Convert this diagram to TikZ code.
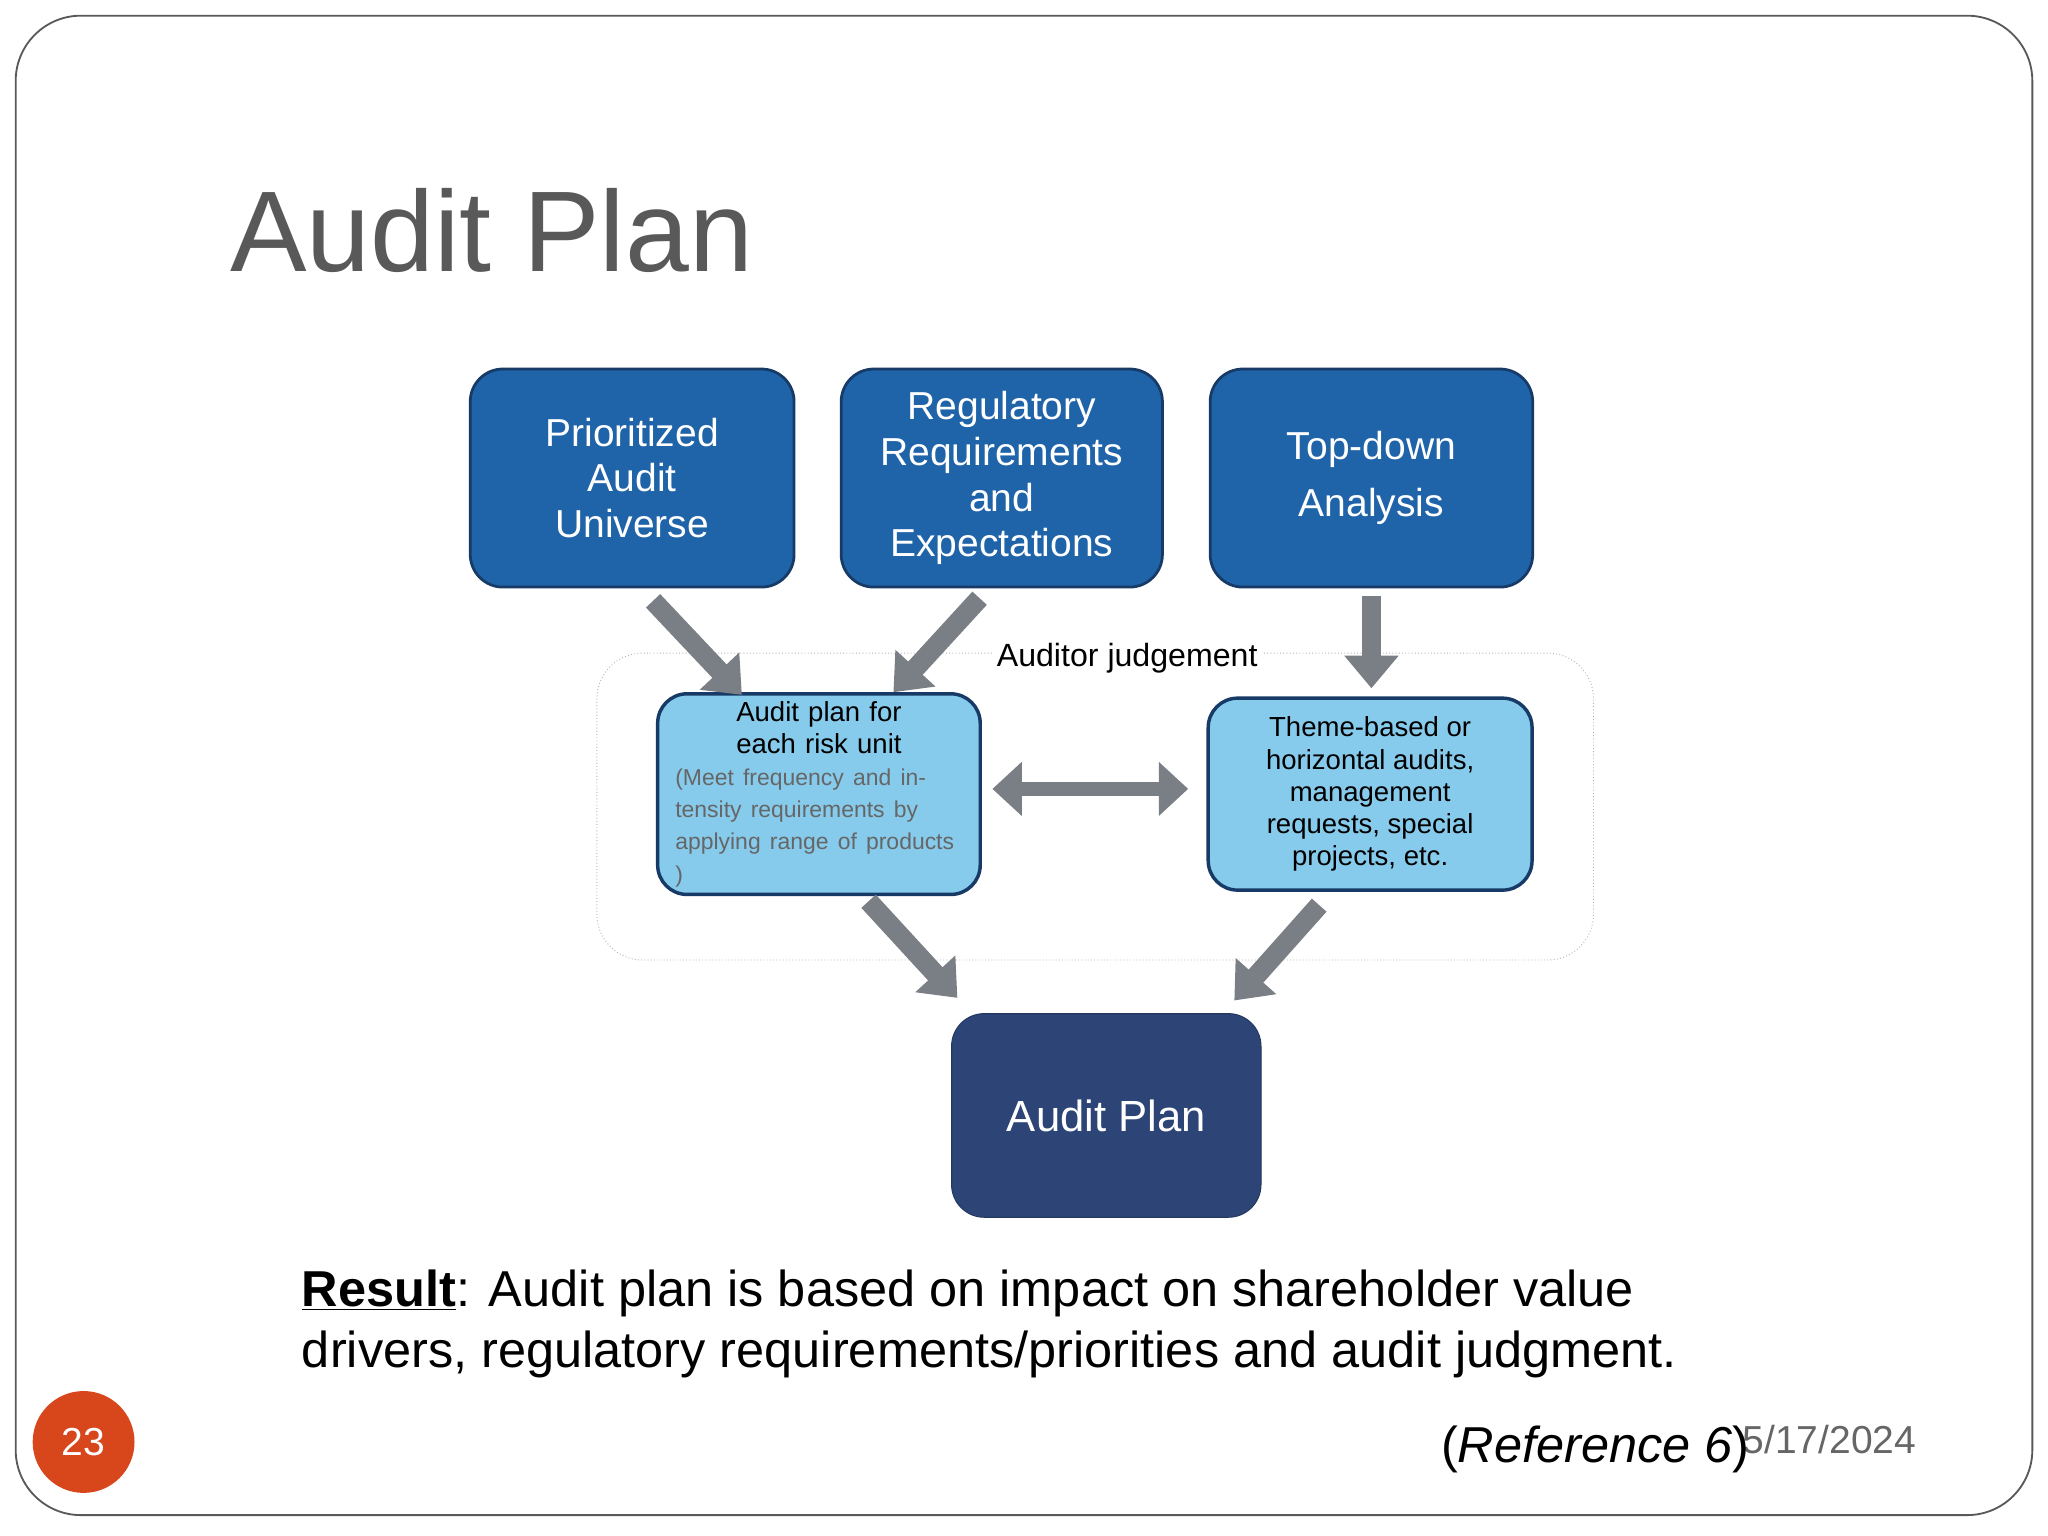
\documentclass[tikz,border=0pt]{standalone}
\usepackage{fontspec}
\setmainfont{Liberation Sans}
\usetikzlibrary{arrows.meta,calc}
\definecolor{topblue}{HTML}{1F63A8}
\definecolor{lightb}{HTML}{86CBEC}
\definecolor{navy}{HTML}{2C4476}
\definecolor{border}{HTML}{173A66}
\definecolor{arr}{HTML}{7A7F85}
\definecolor{badge}{HTML}{D8461C}
\tikzset{
 px/.style={x=0.02cm,y=-0.02cm},
 top/.style={draw=border,line width=1.2pt,fill=topblue,rounded corners=0.5cm,text=white,align=center,font=\fontsize{17}{20}\selectfont},
 mid/.style={draw=border,line width=1.5pt,fill=lightb,rounded corners=0.45cm,align=center,font=\fontsize{12}{14}\selectfont},
 blk/.style={line width=0.3cm,arr,-{Triangle[length=0.5cm,width=0.8cm]}},
}
\begin{document}
\begin{tikzpicture}[px]
\useasboundingbox (0,0) rectangle (1568,1176);
\draw[gray!70!black,line width=0.8pt,rounded corners=1cm] (12,12) rectangle (1556,1160);
\node[anchor=base west,text=gray!70!black,font=\fontsize{50}{60}\selectfont] (title) at (170,208) {Audit Plan};
\draw[gray!60,densely dotted,rounded corners=0.7cm] (457,500) rectangle (1220,735);
\node[top,minimum width=4.96cm,minimum height=3.34cm] (b1) at (484,366) {Prioritized\\Audit\\Universe};
\node[top,minimum width=4.92cm,minimum height=3.34cm] (b2) at (767,366) {Regulatory\\Requirements\\and\\Expectations};
\node[top,minimum width=4.94cm,minimum height=3.34cm,font=\fontsize{17}{25}\selectfont] (b3) at (1050,366) {Top-down\\Analysis};
\node[fill=white,font=\fontsize{14}{16}\selectfont,inner sep=2pt] (judg) at (863,504) {Auditor judgement};
\node[mid,minimum width=4.94cm,minimum height=2.94cm,align=left,text width=4.4cm] (L) at (627,608) {\centering Audit plan for\\ each risk unit\par\raggedright{\fontsize{10}{11}\selectfont\color{gray!80!black}(Meet frequency and intensity requirements by applying range of products )}};
\node[mid,minimum width=4.96cm,minimum height=2.94cm] (R) at (1049,608) {Theme-based or\\horizontal audits,\\management\\requests, special\\projects, etc.};
\node[draw=navy!80!black,fill=navy,rounded corners=0.5cm,minimum width=4.74cm,minimum height=3.12cm,text=white,font=\fontsize{19}{22}\selectfont] (ap) at (847,854) {Audit Plan};
\coordinate (a1s) at (500,460); \coordinate (a1e) at (568,532);
\coordinate (a2s) at (750,458); \coordinate (a2e) at (684,530);
\coordinate (a3s) at (1050,456); \coordinate (a3e) at (1050,527);
\coordinate (a4s) at (665,690); \coordinate (a4e) at (733,764);
\coordinate (a5s) at (1010,693); \coordinate (a5e) at (945,766);
\draw[blk] (a1s) -- (a1e);
\draw[blk] (a2s) -- (a2e);
\draw[blk] (a3s) -- (a3e);
\draw[blk] (a4s) -- (a4e);
\draw[blk] (a5s) -- (a5e);
\draw[line width=0.22cm,arr,{Triangle[length=0.45cm,width=0.8cm]}-{Triangle[length=0.45cm,width=0.8cm]}] ($(L.east)+(8,-4)$) -- ($(R.west)+(-14,-4)$);
\node[anchor=base west,align=left,font=\fontsize{22}{30}\selectfont] (res) at (225,1000) {\textbf{\underline{Result}}: Audit plan is based on impact on shareholder value};
\node[anchor=base west,font=\fontsize{22}{30}\selectfont] (res2) at (225,1047) {drivers, regulatory requirements/priorities and audit judgment.};
\node[circle,fill=badge,minimum size=1.56cm,text=white,font=\fontsize{17}{20}\selectfont] (num) at (64,1104) {23};
\node[anchor=base west,text=gray!80!black,font=\fontsize{17}{20}\selectfont] (date) at (1328,1113) {5/17/2024};
\node[anchor=base east,font=\fontsize{22}{26}\selectfont,inner sep=0] (ref) at (1340,1120) {(\textit{Reference 6})};
\end{tikzpicture}
\end{document}
